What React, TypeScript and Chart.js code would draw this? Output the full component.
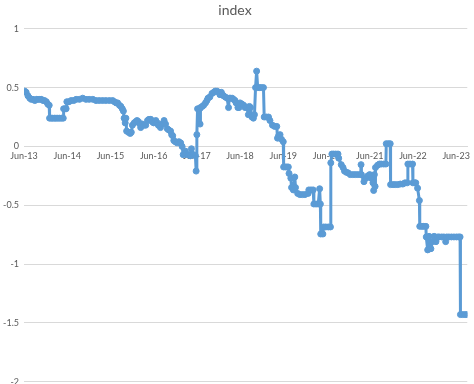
import React, { useEffect, useRef } from "react";
import { Chart, registerables } from "chart.js";

Chart.register(...registerables);

// x = months since Jun-2013
const monthsSinceJun13: number[] = [
  0.2, 0.6, 1.1, 1.6, 2.0, 2.5, 3.0, 3.5, 3.9, 4.4, 4.8, 5.3, 5.7, 6.2, 6.6, 7.0,
  7.1, 7.6, 8.0, 8.5, 8.9, 9.4, 9.9, 10.4, 10.9, 11.0, 11.4, 11.7, 11.9, 12.5, 13.1,
  13.8, 14.5, 15.4, 16.3, 17.2, 18.1, 19.1, 20.0, 20.9, 21.8, 22.7, 23.7, 24.6, 25.1,
  25.6, 26.0, 26.5, 26.9, 27.3, 27.6, 27.8, 28.1, 28.3, 28.5, 29.0, 29.5, 29.8, 30.1,
  30.6, 31.0, 31.4, 31.8, 32.2, 32.4, 32.9, 33.3, 33.8, 34.3, 34.7, 35.2, 35.6, 36.0,
  36.6, 37.0, 37.3, 37.9, 38.4, 38.9, 39.3, 39.8, 40.2, 40.7, 41.0, 41.3, 41.6, 42.0,
  42.5, 43.0, 43.5, 43.9, 44.2, 44.8, 45.3, 45.8, 46.2, 46.5, 47.1, 47.6, 47.8, 48.0,
  48.2, 48.8, 48.9, 49.0, 49.5, 49.9, 50.4, 50.8, 51.1, 51.6, 52.2, 52.7, 53.1, 53.6,
  54.1, 54.4, 54.8, 55.1, 55.4, 55.9, 56.4, 56.8, 57.0, 57.3, 57.8, 58.2, 58.6, 58.9,
  59.4, 59.7, 60.0, 60.5, 61.0, 61.4, 61.9, 62.3, 62.6, 62.9, 63.3, 63.7, 64.0, 64.3,
  64.6, 64.9, 65.4, 65.9, 66.5, 66.7, 67.3, 67.9, 68.3, 69.0, 69.6, 70.2, 70.4, 70.7,
  71.1, 71.5, 72.0, 72.1, 72.6, 73.0, 73.4, 73.6, 74.1, 74.3, 74.8, 75.2, 75.4, 76.0,
  76.6, 77.3, 78.0, 78.9, 79.1, 79.7, 80.3, 80.5, 81.1, 81.7, 82.1, 82.3, 82.4, 83.0,
  83.2, 83.8, 84.5, 85.1, 85.2, 85.5, 86.0, 86.6, 87.2, 87.4, 88.1, 88.6, 89.0, 89.5,
  90.0, 90.6, 91.3, 92.0, 92.7, 93.5, 93.6, 93.7, 94.4, 95.0, 95.5, 96.0, 96.4, 96.9,
  97.1, 97.3, 97.5, 97.6, 98.2, 98.7, 99.2, 99.9, 100.5, 100.6, 101.2, 101.7, 101.8,
  102.5, 103.1, 103.8, 104.5, 105.2, 105.8, 106.4, 106.6, 107.2, 107.9, 108.0, 108.5,
  108.8, 109.3, 109.8, 109.9, 110.5, 111.0, 111.6, 111.7, 112.1, 112.5, 113.0, 113.4,
  113.9, 114.4, 114.9, 115.3, 116.0, 116.6, 117.1, 117.4, 118.0, 118.7, 119.4, 120.1,
  120.7, 121.1, 121.2, 121.8, 122.5, 123.1,
];

const indexValues: number[] = [
  0.47, 0.46, 0.43, 0.41, 0.40, 0.40, 0.39, 0.40, 0.40, 0.40, 0.40, 0.39, 0.39, 0.38, 0.36, 0.35,
  0.24, 0.24, 0.24, 0.24, 0.24, 0.24, 0.24, 0.24, 0.24, 0.32, 0.32, 0.32, 0.38, 0.38, 0.39,
  0.39, 0.40, 0.40, 0.41, 0.40, 0.40, 0.40, 0.39, 0.39, 0.39, 0.39, 0.39, 0.39, 0.38,
  0.37, 0.37, 0.35, 0.34, 0.32, 0.30, 0.24, 0.20, 0.24, 0.13, 0.12, 0.11, 0.12, 0.18,
  0.20, 0.21, 0.22, 0.21, 0.19, 0.16, 0.19, 0.18, 0.18, 0.22, 0.23, 0.23, 0.21, 0.20,
  0.22, 0.20, 0.18, 0.16, 0.19, 0.22, 0.19, 0.15, 0.14, 0.13, 0.10, 0.09, 0.05, 0.04,
  0.03, 0.04, 0.03, 0.00, -0.07, -0.04, -0.07, -0.07, -0.08, -0.02, -0.07, -0.08, -0.21, 0.10,
  0.32, 0.32, 0.19, 0.33, 0.34, 0.35, 0.37, 0.39, 0.41, 0.42, 0.45, 0.46, 0.47, 0.47,
  0.46, 0.44, 0.46, 0.44, 0.43, 0.42, 0.41, 0.33, 0.41, 0.41, 0.41, 0.40, 0.39, 0.37,
  0.33, 0.33, 0.37, 0.36, 0.35, 0.33, 0.33, 0.27, 0.34, 0.33, 0.25, 0.24, 0.27, 0.50,
  0.64, 0.50, 0.50, 0.50, 0.50, 0.25, 0.25, 0.25, 0.22, 0.18, 0.17, 0.17, 0.07, 0.09,
  0.10, 0.06, 0.04, -0.175, -0.175, -0.175, -0.175, -0.23, -0.27, -0.35, -0.37, -0.26, -0.35, -0.40,
  -0.41, -0.41, -0.41, -0.40, -0.37, -0.37, -0.37, -0.49, -0.49, -0.49, -0.36, -0.49, -0.745, -0.745,
  -0.685, -0.685, -0.685, -0.685, -0.14, -0.065, -0.065, -0.065, -0.065, -0.10, -0.155, -0.18, -0.21, -0.22,
  -0.225, -0.24, -0.24, -0.24, -0.24, -0.24, -0.155, -0.24, -0.30, -0.27, -0.25, -0.24, -0.27, -0.31,
  -0.375, -0.24, -0.34, -0.18, -0.16, -0.15, -0.15, -0.15, -0.15, 0.023, 0.023, 0.023, -0.325,
  -0.325, -0.325, -0.325, -0.32, -0.32, -0.31, -0.31, -0.15, -0.15, -0.15, -0.31, -0.31,
  -0.31, -0.355, -0.46, -0.68, -0.68, -0.68, -0.68, -0.77, -0.88, -0.765, -0.87, -0.81,
  -0.765, -0.81, -0.77, -0.77, -0.77, -0.77, -0.81, -0.77, -0.77, -0.77, -0.77, -0.77,
  -0.77, -0.77, -1.43, -1.43, -1.43, -1.43,
];

const chartTitle = "index";
const xTickMonths: number[] = [0, 12, 24, 36, 48, 60, 72, 84, 96, 108, 120];
const xTickLabels: string[] = [
  "Jun-13", "Jun-14", "Jun-15", "Jun-16", "Jun-17", "Jun-18",
  "Jun-19", "Jun-20", "Jun-21", "Jun-22", "Jun-23",
];

export default function App() {
  const canvasRef = useRef<HTMLCanvasElement | null>(null);

  useEffect(() => {
    document.body.style.margin = "0";
    const canvas = canvasRef.current;
    if (!canvas) return;
    const points = monthsSinceJun13.map((m, i) => ({ x: m, y: indexValues[i] }));
    const blue = "#5B9BD5";
    const textColor = "#595959";
    const fontFamily = "Lato, 'Open Sans', sans-serif";
    const chart = new Chart(canvas, {
      type: "line",
      data: {
        datasets: [
          {
            label: chartTitle,
            data: points,
            borderColor: blue,
            backgroundColor: blue,
            borderWidth: 3,
            borderJoinStyle: "round",
            borderCapStyle: "round",
            pointRadius: 3,
            pointBorderWidth: 1,
            pointBackgroundColor: blue,
            pointBorderColor: blue,
            tension: 0,
          },
        ],
      },
      options: {
        animation: false,
        responsive: false,
        layout: { padding: { left: 0, right: 4, top: 0, bottom: 0 } },
        plugins: {
          legend: { display: false },
          tooltip: { enabled: false },
          title: {
            display: true,
            text: chartTitle,
            color: textColor,
            font: { family: fontFamily, size: 14, weight: "normal" },
            padding: { top: 2, bottom: 10 },
          },
        },
        scales: {
          x: {
            type: "linear",
            min: 0,
            max: 123.1,
            position: { y: 0 },
            grid: { display: false, drawTicks: false },
            border: { display: true, color: "#d9d9d9", width: 1 },
            afterBuildTicks: (scale: any) => {
              scale.ticks = xTickMonths.map((v) => ({ value: v }));
            },
            afterFit: (scale: any) => {
              scale.height = 0;
            },
            ticks: {
              autoSkip: false,
              maxRotation: 0,
              color: textColor,
              font: { family: fontFamily, size: 9 },
              padding: 4,
              callback: (v: any) => {
                const idx = xTickMonths.indexOf(Number(v));
                return idx >= 0 ? xTickLabels[idx] : "";
              },
            },
          },
          y: {
            min: -2,
            max: 1,
            grid: { color: "#d9d9d9", drawTicks: false },
            border: { display: false },
            ticks: {
              stepSize: 0.5,
              color: textColor,
              font: { family: fontFamily, size: 9 },
              padding: 5,
              callback: (v: any) => String(Number(v)),
            },
            afterFit: (scale: any) => {
              scale.width = 24;
            },
          },
        },
      },
    });
    return () => chart.destroy();
  }, []);

  return (
    <div style={{ width: 474, height: 384, background: "#fff", overflow: "hidden" }}>
      <canvas ref={canvasRef} width={474} height={392} style={{ display: "block" }} />
    </div>
  );
}
